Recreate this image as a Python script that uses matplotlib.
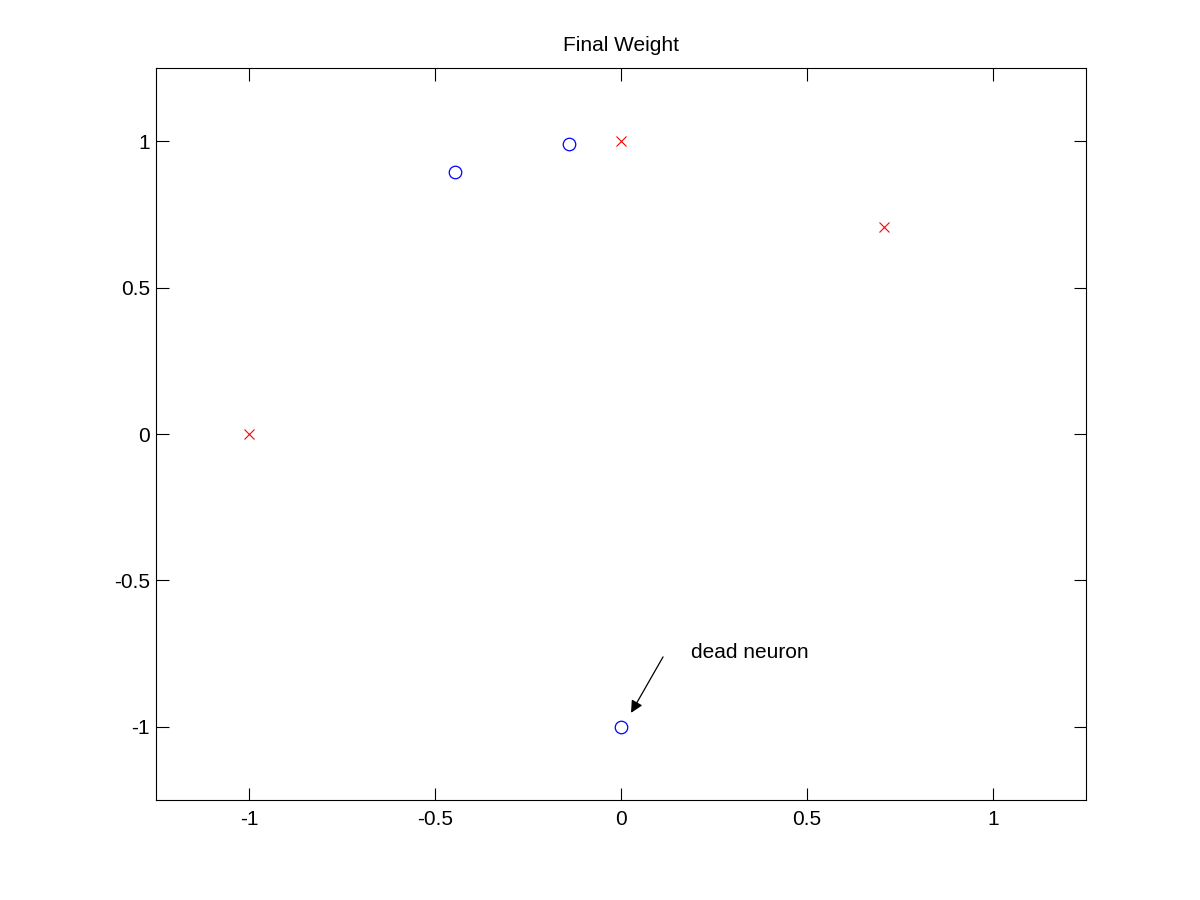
import matplotlib
matplotlib.use('Agg')
import matplotlib.pyplot as plt

# final weights (blue circles) and input patterns (red crosses)
weight_x = [-0.447, -0.14, 0.0]
weight_y = [0.894, 0.99, -1.0]
input_x = [-1.0, 0.0, 0.7071]
input_y = [0.0, 1.0, 0.7071]

ticks = [-1, -0.5, 0, 0.5, 1]
tick_labels = ['-1', '-0.5', '0', '0.5', '1']

plt.rcParams['font.family'] = ['Liberation Sans', 'DejaVu Sans']

fig = plt.figure(figsize=(12, 9), dpi=100)
ax = fig.add_axes([0.13, 0.111, 0.775, 0.8134])

ax.plot(input_x, input_y, 'x', color='#ff0000', ms=7, mew=0.8, linestyle='none')
ax.plot(weight_x, weight_y, 'o', mfc='none', mec='#0000ff', ms=9, mew=0.9, linestyle='none')

ax.annotate('', xy=(0.027, -0.952), xytext=(0.113, -0.761),
            arrowprops=dict(arrowstyle='-|>', color='black', lw=0.9,
                            mutation_scale=18, shrinkA=0, shrinkB=0))
ax.text(0.188, -0.747, 'dead neuron', fontsize=15, ha='left', va='center')

ax.set_xlim(-1.25, 1.25)
ax.set_ylim(-1.25, 1.25)
ax.set_xticks(ticks)
ax.set_xticklabels(tick_labels)
ax.set_yticks(ticks)
ax.set_yticklabels(tick_labels)
ax.tick_params(direction='in', length=9, width=0.8, labelsize=15,
               top=True, right=True)
ax.tick_params(axis='x', pad=7)
ax.tick_params(axis='y', pad=4.5)
for s in ax.spines.values():
    s.set_linewidth(0.8)

ax.set_title('Final Weight', fontsize=15, pad=12)

fig.savefig('out.png', dpi=100)
